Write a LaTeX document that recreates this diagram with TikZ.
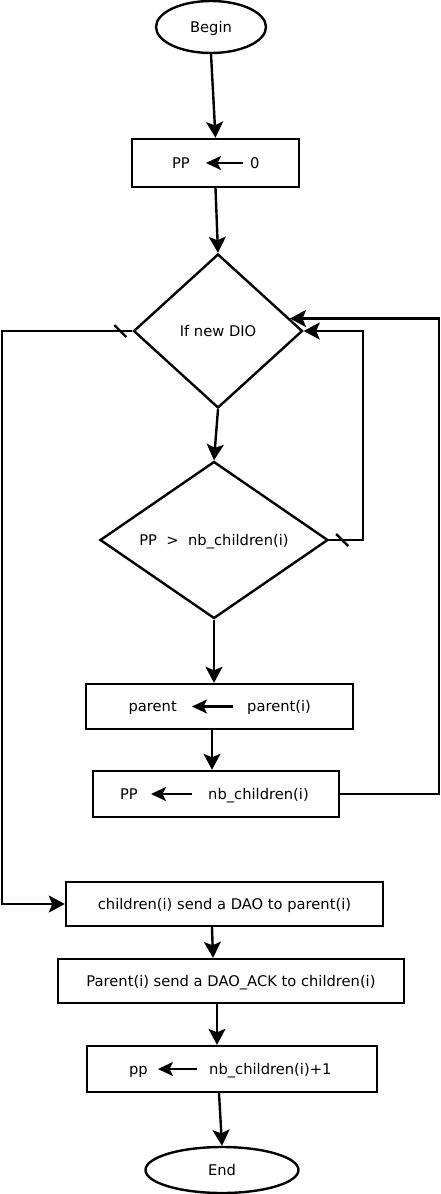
\documentclass[tikz,border=0pt]{standalone}
\usepackage{fontspec}
\setmainfont{DejaVu Sans}
\usetikzlibrary{arrows.meta,shapes.geometric,calc}
\begin{document}
\begin{tikzpicture}[x=1pt,y=-1pt,
  every node/.style={font=\fontsize{14.7}{17}\selectfont,text height=10.7pt,text depth=0pt},
  line width=2.4pt,
  arr/.style={-{Stealth[length=16pt,width=17pt,inset=3.5pt]}},
  inarr/.style={-{Stealth[length=15pt,width=14pt,inset=3.5pt]}},
  box/.style={draw,rectangle,inner sep=0pt},
  term/.style={draw,ellipse,inner sep=0pt},
  dec/.style={draw,diamond,inner sep=0pt},
  lbl/.style={inner sep=0pt}]
\useasboundingbox (0,0) rectangle (441,1194);

% terminals
\node[term,minimum width=110pt,minimum height=52pt] (begin) at (211,27) {Begin};
\node[term,minimum width=153pt,minimum height=46pt] (end) at (222,1170) {End};

% PP <- 0
\node[box,minimum width=167pt,minimum height=48pt] (pp) at (215.5,163) {};
\node[lbl,anchor=east] (ppL) at (191,163) {PP};
\node[lbl,anchor=west] (ppR) at (249,163) {0};
\draw[inarr] ([xshift=-6pt]ppR.west) -- ([xshift=15pt]ppL.east);

% decisions
\node[dec,minimum width=169pt,minimum height=154pt] (d1) at (218,331) {If new DIO};
\node[dec,minimum width=228pt,minimum height=157pt,shape aspect=1.45] (d2) at (214,540) {PP\ \ >\ \ nb\_children(i)};

% parent <- parent(i)
\node[box,minimum width=267pt,minimum height=45pt] (par) at (219.5,706.5) {};
\node[lbl,anchor=east] (parL) at (178,706.5) {parent};
\node[lbl,anchor=west] (parR) at (246,706.5) {parent(i)};
\draw[inarr] ([xshift=-13pt]parR.west) -- ([xshift=14pt]parL.east);

% PP <- nb_children(i)
\node[box,minimum width=246pt,minimum height=46pt] (pp2) at (216,794) {};
\node[lbl,anchor=east] (pp2L) at (139,794) {PP};
\node[lbl,anchor=west] (pp2R) at (207,794) {nb\_children(i)};
\draw[inarr] ([xshift=-15pt]pp2R.west) -- ([xshift=12pt]pp2L.east);

% messages
\node[box,minimum width=317pt,minimum height=44pt] (ch) at (224.5,904) {children(i) send a DAO to parent(i)};
\node[box,minimum width=346pt,minimum height=44pt] (par2) at (231,981) {Parent(i) send a DAO\_ACK to children(i)};

% pp <- nb_children(i)+1
\node[box,minimum width=290pt,minimum height=46pt] (pp3) at (232,1069) {};
\node[lbl,anchor=east] (pp3L) at (149,1069) {pp};
\node[lbl,anchor=west] (pp3R) at (208,1069) {nb\_children(i)+1};
\draw[inarr] ([xshift=-11pt]pp3R.west) -- ([xshift=9pt]pp3L.east);

% main flow
\draw[arr] (begin.south) -- (pp.north);
\draw[arr] (pp.south) -- (d1.north);
\draw[arr] (d1.south) -- (d2.north);
\draw[arr] (d2.south) -- (d2.south |- par.north);
\draw[arr] ([xshift=-7.5pt]par.south) -- ([xshift=-4pt]pp2.north);
\draw[arr] ([xshift=-12.5pt]ch.south) -- ([xshift=-18pt]par2.north);
\draw[arr] ([xshift=-14pt]par2.south) -- ([xshift=-15pt]pp3.north);
\draw[arr] ([xshift=-13pt]pp3.south) -- (end.north);

% loops
\coordinate (L) at (2,0);
\coordinate (R1) at (363,0);
\coordinate (R2) at (439,0);
\coordinate (t) at ($(d1.north)!0.84!(d1.east)$);
\draw[arr] (d1.west) -- (d1.west -| L) -- (L |- ch.west) -- (ch.west);
\draw[arr] (d2.east) -- (d2.east -| R1) -- (R1 |- d1.east) -- (d1.east);
\draw[arr] (pp2.east) -- (pp2.east -| R2) -- (R2 |- t) -- (t);

% ticks
\draw ([shift={(-18,-6)}]d1.west) -- ([shift={(-6,6)}]d1.west);
\draw ([shift={(7,-6)}]d2.east) -- ([shift={(19,6)}]d2.east);
\end{tikzpicture}
\end{document}
